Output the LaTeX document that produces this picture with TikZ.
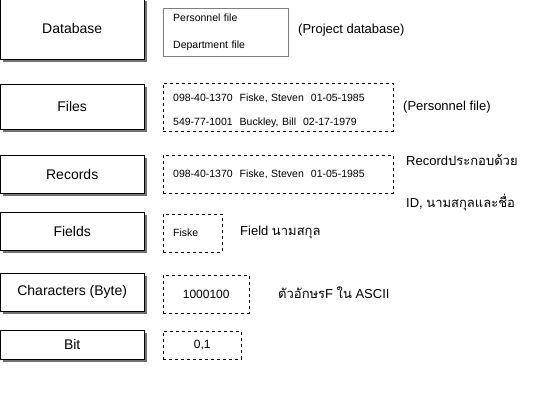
\documentclass[tikz,border=0pt]{standalone}
\usepackage{fontspec}
\setmainfont{Liberation Sans}
\newfontfamily\thaifont[Script=Thai]{Loma}
\tikzset{
  levelbox/.style={draw, fill=white, minimum width=144pt, anchor=north west, inner sep=0pt,
    font=\fontsize{14}{16}\selectfont,
    preaction={fill=black!55, transform canvas={shift={(3pt,-3pt)}}}},
  samplebox/.style={draw, dashed, anchor=north west, inner xsep=10pt, inner ysep=0pt, align=left,
    font=\fontsize{10.5}{12}\selectfont},
  note/.style={anchor=west, inner sep=0pt, font=\fontsize{13}{15}\selectfont}
}
\begin{document}
\begin{tikzpicture}[x=1pt, y=-1pt]
  \useasboundingbox (0,0) rectangle (546,411);
  % levels
  \node[levelbox, minimum height=61pt] (database) at (0,-2) {Database};
  \node[levelbox, minimum height=45pt] (files) at (0,84) {Files};
  \node[levelbox, minimum height=38pt] (records) at (0,155) {Records};
  \node[levelbox, minimum height=38pt] (fields) at (0,212) {Fields};
  \node[levelbox, minimum height=38pt] (chars) at (0,273) {Characters (Byte)};
  \node[levelbox, minimum height=29pt] (bit) at (0,330) {Bit};
  % examples
  \node[samplebox, solid, draw=gray, minimum width=125pt, minimum height=48pt, text width=105pt] (dbsample)
    at (163,8) {Personnel file\\[15pt]Department file};
  \node[samplebox, minimum width=230pt, minimum height=48pt, text width=210pt] (filesample) at (163,83)
    {\rule{0pt}{14pt}098-40-1370\ \ Fiske, Steven\ \ 01-05-1985\\[12pt]549-77-1001\ \ Buckley, Bill\ \ 02-17-1979};
  \node[samplebox, minimum width=230pt, minimum height=38pt, text width=210pt] (recsample) at (163,155)
    {098-40-1370\ \ Fiske, Steven\ \ 01-05-1985};
  \node[samplebox, minimum width=59pt, minimum height=38pt, text width=39pt] (fieldsample) at (163,214) {Fiske};
  \node[samplebox, minimum width=86pt, minimum height=38pt, text width=66pt, align=center,
    font=\fontsize{12}{14}\selectfont] (charsample) at (163,275) {1000100\\[4pt]};
  \node[samplebox, minimum width=78pt, minimum height=28pt, text width=58pt, align=center,
    font=\fontsize{12}{14}\selectfont] (bitsample) at (163,331) {0,1};
  % notes
  \node[note] (dbnote) at (298,30) {(Project database)};
  \node[note] (filenote) at (403,107) {(Personnel file)};
  \node[note] (recnote) at (406,160) {Record\thaifont ประกอบด้วย};
  \node[note] (recnote2) at (406,203) {ID, {\thaifont นามสกุลและชื่อ}};
  \node[note] (fieldnote) at (240,232) {Field {\thaifont นามสกุล}};
  \node[note] (charnote) at (278,293) {{\thaifont ตัวอักษร}F {\thaifont ใน} ASCII};
\end{tikzpicture}
\end{document}
